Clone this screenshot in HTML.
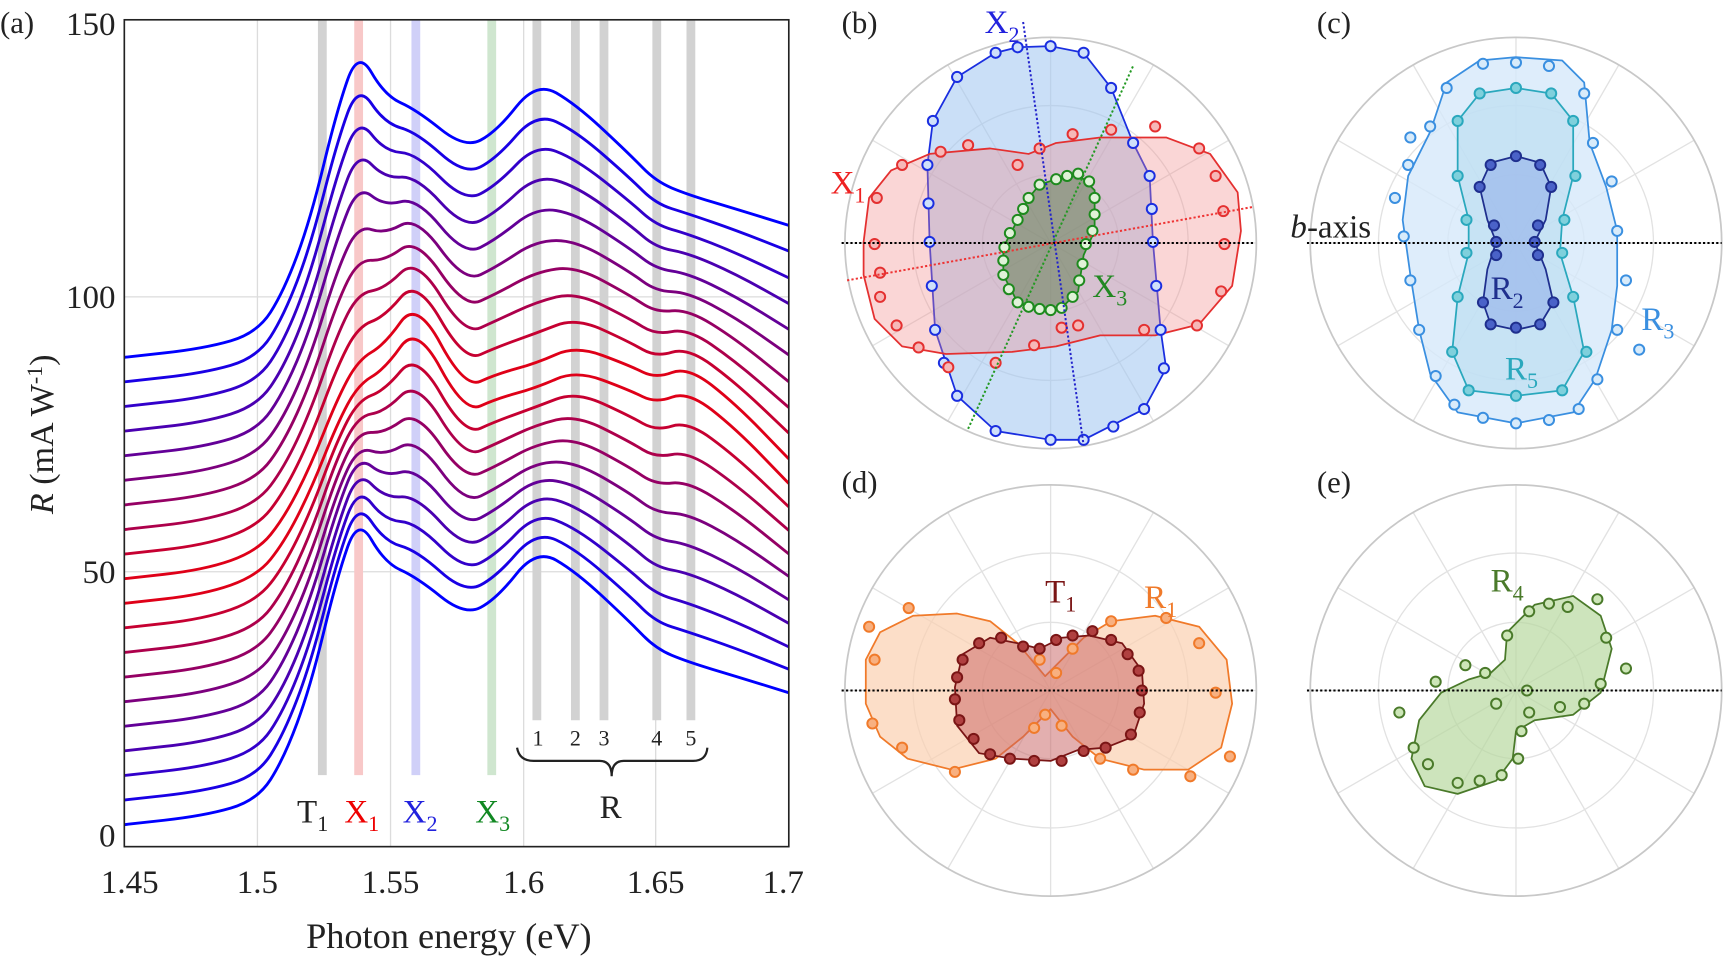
<!DOCTYPE html>
<html><head><meta charset="utf-8"><style>
html,body{margin:0;padding:0;background:#fff;}
svg{display:block;}
text{font-family:"Liberation Serif",serif;}
</style></head><body>
<svg width="1725" height="961" viewBox="0 0 1568 874" preserveAspectRatio="none" xmlns="http://www.w3.org/2000/svg" xmlns:xlink="http://www.w3.org/1999/xlink">
<defs>
<path id="p0" d="M113 0L149.25 -4Q185.5 -8 209.65 -15Q233.8 -22 245.9 -41Q258 -60 270.05 -92.5Q282.1 -125 294.2 -175Q306.3 -225 315.95 -252.5Q325.6 -280 337.7 -259Q349.8 -238 364.3 -231.5Q378.8 -225 400.55 -207.5Q422.3 -190 436.75 -197.5Q451.2 -205 469.35 -228Q487.5 -251 505.6 -240.5Q523.7 -230 547.85 -207.5Q572 -185 584.1 -172.5Q596.2 -160 610.7 -154Q625.2 -148 646.9 -141.5Q668.6 -135 692.8 -127.5L717 -120"/>
<path id="p1" d="M113 0L149.25 -4Q185.5 -8 209.65 -15Q233.8 -22 245.9 -41Q258 -60 270.05 -91.5Q282.1 -123 294.2 -170.5Q306.3 -218 315.95 -244.5Q325.6 -271 337.7 -253Q349.8 -235 364.3 -231Q378.8 -227 400.55 -207.5Q422.3 -188 436.75 -195.5Q451.2 -203 469.35 -224Q487.5 -245 505.6 -236.5Q523.7 -228 547.85 -207Q572 -186 584.1 -174Q596.2 -162 610.7 -157.5Q625.2 -153 646.9 -145.5Q668.6 -138 692.8 -128.5L717 -119"/>
<path id="p2" d="M113 0L149.25 -4Q185.5 -8 209.65 -15.5Q233.8 -23 245.9 -41Q258 -59 270.05 -89.5Q282.1 -120 294.2 -165.5Q306.3 -211 315.95 -237Q325.6 -263 337.7 -247.5Q349.8 -232 364.3 -231Q378.8 -230 400.55 -208Q422.3 -186 436.75 -193.5Q451.2 -201 469.35 -220Q487.5 -239 505.6 -232Q523.7 -225 547.85 -206Q572 -187 584.1 -176Q596.2 -165 610.7 -161Q625.2 -157 646.9 -148.5Q668.6 -140 692.8 -128.5L717 -117"/>
<path id="p3" d="M113 0L149.25 -4Q185.5 -8 209.65 -15.5Q233.8 -23 245.9 -40.5Q258 -58 270.05 -87.5Q282.1 -117 294.2 -160.5Q306.3 -204 315.95 -229.5Q325.6 -255 337.7 -242.5Q349.8 -230 364.3 -231Q378.8 -232 400.55 -208Q422.3 -184 436.75 -191.5Q451.2 -199 469.35 -216Q487.5 -233 505.6 -228Q523.7 -223 547.85 -205.5Q572 -188 584.1 -177.5Q596.2 -167 610.7 -164.5Q625.2 -162 646.9 -152.5Q668.6 -143 692.8 -129.5L717 -116"/>
<path id="p4" d="M113 0L149.25 -4Q185.5 -8 209.65 -15.5Q233.8 -23 245.9 -40.5Q258 -58 270.05 -86.5Q282.1 -115 294.2 -156.5Q306.3 -198 315.95 -222Q325.6 -246 337.7 -236.5Q349.8 -227 364.3 -231Q378.8 -235 400.55 -208.5Q422.3 -182 436.75 -189.5Q451.2 -197 469.35 -211.5Q487.5 -226 505.6 -223Q523.7 -220 547.85 -204.5Q572 -189 584.1 -179.5Q596.2 -170 610.7 -168Q625.2 -166 646.9 -155.5Q668.6 -145 692.8 -130L717 -115"/>
<path id="p5" d="M113 0L149.25 -4Q185.5 -8 209.65 -16Q233.8 -24 245.9 -40.5Q258 -57 270.05 -84.5Q282.1 -112 294.2 -151.5Q306.3 -191 315.95 -211.5Q325.6 -232 337.7 -228Q349.8 -224 364.3 -232Q378.8 -240 400.55 -210Q422.3 -180 436.75 -187Q451.2 -194 469.35 -206Q487.5 -218 505.6 -218Q523.7 -218 547.85 -204Q572 -190 584.1 -181Q596.2 -172 610.7 -171.5Q625.2 -171 646.9 -159.5Q668.6 -148 692.8 -131L717 -114"/>
<path id="p6" d="M113 0L149.25 -4Q185.5 -8 209.65 -16Q233.8 -24 245.9 -40.5Q258 -57 270.05 -83.5Q282.1 -110 294.2 -147Q306.3 -184 315.95 -203.5Q325.6 -223 337.7 -222.5Q349.8 -222 364.3 -232.5Q378.8 -243 400.55 -211Q422.3 -179 436.75 -185.5Q451.2 -192 469.35 -202Q487.5 -212 505.6 -214.5Q523.7 -217 547.85 -204Q572 -191 584.1 -183Q596.2 -175 610.7 -176.5Q625.2 -178 646.9 -164.5Q668.6 -151 692.8 -131.5L717 -112"/>
<path id="p7" d="M113 0L149.25 -4Q185.5 -8 209.65 -16Q233.8 -24 245.9 -40Q258 -56 270.05 -81.5Q282.1 -107 294.2 -142Q306.3 -177 315.95 -196Q325.6 -215 337.7 -217Q349.8 -219 364.3 -233.5Q378.8 -248 400.55 -212.5Q422.3 -177 436.75 -183.5Q451.2 -190 469.35 -198.5Q487.5 -207 505.6 -211.5Q523.7 -216 547.85 -204Q572 -192 584.1 -184.5Q596.2 -177 610.7 -180Q625.2 -183 646.9 -168Q668.6 -153 692.8 -132L717 -111"/>
<path id="p8" d="M113 0L149.25 -4Q185.5 -8 209.65 -16.5Q233.8 -25 245.9 -40.5Q258 -56 270.05 -80.5Q282.1 -105 294.2 -137.5Q306.3 -170 315.95 -188.5Q325.6 -207 337.7 -211.5Q349.8 -216 364.3 -233.5Q378.8 -251 400.55 -213Q422.3 -175 436.75 -181.5Q451.2 -188 469.35 -194.5Q487.5 -201 505.6 -208Q523.7 -215 547.85 -204Q572 -193 584.1 -186Q596.2 -179 610.7 -183.5Q625.2 -188 646.9 -172Q668.6 -156 692.8 -133L717 -110"/>
<path id="p9" d="M113 0L149.25 -4Q185.5 -8 209.65 -16.5Q233.8 -25 245.9 -40Q258 -55 270.05 -78.5Q282.1 -102 294.2 -132.5Q306.3 -163 315.95 -181Q325.6 -199 337.7 -206Q349.8 -213 364.3 -233.5Q378.8 -254 400.55 -213.5Q422.3 -173 436.75 -179.5Q451.2 -186 469.35 -191Q487.5 -196 505.6 -204Q523.7 -212 547.85 -203Q572 -194 584.1 -188Q596.2 -182 610.7 -187.5Q625.2 -193 646.9 -176Q668.6 -159 692.8 -134L717 -109"/>
<g id="pg" stroke="#e2e2e2" stroke-width="1.2" fill="none">
<line x1="-187" y1="0" x2="187" y2="0"/><line x1="0" y1="-187" x2="0" y2="187"/>
<line x1="-162" y1="-93.5" x2="162" y2="93.5"/><line x1="-162" y1="93.5" x2="162" y2="-93.5"/>
<line x1="-93.5" y1="-162" x2="93.5" y2="162"/><line x1="-93.5" y1="162" x2="93.5" y2="-162"/>
<circle r="62"/><circle r="125"/><circle r="187" stroke="#c8c8c8" stroke-width="1.6"/>
</g>
</defs>
<rect width="1568" height="874" fill="#fff"/>
<g stroke="#dcdcdc" stroke-width="1.2">
<line x1="234" y1="18" x2="234" y2="770"/><line x1="355" y1="18" x2="355" y2="770"/>
<line x1="476" y1="18" x2="476" y2="770"/><line x1="596" y1="18" x2="596" y2="770"/>
<line x1="113" y1="270" x2="717" y2="270"/><line x1="113" y1="520" x2="717" y2="520"/>
</g>
<g stroke-width="8">
<line x1="293" y1="18" x2="293" y2="705" stroke="#d2d2d2"/>
<line x1="326" y1="18" x2="326" y2="705" stroke="#f8c8c8"/>
<line x1="378" y1="18" x2="378" y2="705" stroke="#d0d0f8"/>
<line x1="447" y1="18" x2="447" y2="705" stroke="#cfe6cf"/>
<line x1="488" y1="18" x2="488" y2="655" stroke="#d2d2d2"/>
<line x1="523" y1="18" x2="523" y2="655" stroke="#d2d2d2"/>
<line x1="549" y1="18" x2="549" y2="655" stroke="#d2d2d2"/>
<line x1="597" y1="18" x2="597" y2="655" stroke="#d2d2d2"/>
<line x1="628" y1="18" x2="628" y2="655" stroke="#d2d2d2"/>
</g>
<g fill="none" stroke-width="2.6" stroke-linejoin="round">
<use xlink:href="#p0" transform="translate(0,750)" stroke="rgb(0,0,255)"/>
<use xlink:href="#p1" transform="translate(0,727.6)" stroke="rgb(25,0,229)"/>
<use xlink:href="#p2" transform="translate(0,705.3)" stroke="rgb(50,0,203)"/>
<use xlink:href="#p3" transform="translate(0,682.9)" stroke="rgb(74,0,177)"/>
<use xlink:href="#p4" transform="translate(0,660.5)" stroke="rgb(99,0,152)"/>
<use xlink:href="#p5" transform="translate(0,638.2)" stroke="rgb(124,0,126)"/>
<use xlink:href="#p6" transform="translate(0,615.8)" stroke="rgb(149,0,100)"/>
<use xlink:href="#p7" transform="translate(0,593.4)" stroke="rgb(173,0,75)"/>
<use xlink:href="#p8" transform="translate(0,571)" stroke="rgb(198,0,49)"/>
<use xlink:href="#p9" transform="translate(0,548.7)" stroke="rgb(223,0,24)"/>
<use xlink:href="#p9" transform="translate(0,526.3)" stroke="rgb(223,0,24)"/>
<use xlink:href="#p8" transform="translate(0,503.9)" stroke="rgb(198,0,49)"/>
<use xlink:href="#p7" transform="translate(0,481.6)" stroke="rgb(173,0,75)"/>
<use xlink:href="#p6" transform="translate(0,459.2)" stroke="rgb(149,0,100)"/>
<use xlink:href="#p5" transform="translate(0,436.8)" stroke="rgb(124,0,126)"/>
<use xlink:href="#p4" transform="translate(0,414.5)" stroke="rgb(99,0,152)"/>
<use xlink:href="#p3" transform="translate(0,392.1)" stroke="rgb(74,0,177)"/>
<use xlink:href="#p2" transform="translate(0,369.7)" stroke="rgb(50,0,203)"/>
<use xlink:href="#p1" transform="translate(0,347.3)" stroke="rgb(25,0,229)"/>
<use xlink:href="#p0" transform="translate(0,325)" stroke="rgb(0,0,255)"/>
</g>
<rect x="113" y="18" width="604" height="752" fill="none" stroke="#222" stroke-width="1.5"/>
<g font-size="30" fill="#222" text-anchor="end">
<text x="105" y="32">150</text><text x="105" y="280">100</text><text x="105" y="530">50</text><text x="105" y="770">0</text>
</g>
<g font-size="30" fill="#222" text-anchor="middle">
<text x="118" y="812">1.45</text><text x="234" y="812">1.5</text><text x="355" y="812">1.55</text>
<text x="476" y="812">1.6</text><text x="596" y="812">1.65</text><text x="712" y="812">1.7</text>
<text x="408" y="862" font-size="33">Photon energy (eV)</text>
</g>
<text transform="translate(48,395) rotate(-90)" font-size="31" text-anchor="middle" fill="#222"><tspan font-style="italic">R</tspan> (mA W<tspan font-size="20" dy="-10">-1</tspan><tspan dy="10">)</tspan></text>
<text x="0" y="30" font-size="28" fill="#222">(a)</text>
<g font-size="30">
<text x="270" y="748" fill="#222">T<tspan font-size="20" dy="8">1</tspan></text>
<text x="313" y="748" fill="#e00">X<tspan font-size="20" dy="8">1</tspan></text>
<text x="366" y="748" fill="#22d">X<tspan font-size="20" dy="8">2</tspan></text>
<text x="432" y="748" fill="#182">X<tspan font-size="20" dy="8">3</tspan></text>
<text x="545" y="744" fill="#222">R</text>
</g>
<g font-size="20" fill="#222" text-anchor="middle">
<text x="489" y="678">1</text><text x="523" y="678">2</text><text x="549" y="678">3</text><text x="597" y="678">4</text><text x="628" y="678">5</text>
</g>
<path d="M470 680 Q472 692 485 692 L545 692 Q556 692 556 706 Q556 692 567 692 L630 692 Q642 692 643 680" fill="none" stroke="#222" stroke-width="2"/>

<use xlink:href="#pg" transform="translate(955,221)"/>
<use xlink:href="#pg" transform="translate(1378,221)"/>
<use xlink:href="#pg" transform="translate(955,628)"/>
<use xlink:href="#pg" transform="translate(1378,628)"/>

<!-- (b) -->
<g stroke-linejoin="round" stroke-width="1.6">
<polygon points="925,43 955,42 985,48 1010,80 1030,130 1045,160 1048,220 1055,300 1060,335 1040,372 985,400 955,400 905,392 870,360 850,300 845,220 843,150 848,110 870,70 905,48" fill="#9ec4f0" fill-opacity="0.55" stroke="#1a2ee0"/>
<polygon points="785,220 790,180 810,155 845,140 900,135 935,140 960,130 1000,125 1060,125 1100,140 1125,175 1128,210 1120,260 1090,295 1050,305 1000,305 960,315 920,320 860,322 820,315 795,290 785,250" fill="#f08a8a" fill-opacity="0.35" stroke="#e43030"/>
<polygon points="960,163 980,158 995,173 995,210 985,232 980,265 965,280 945,281 925,275 912,250 912,225 925,200 935,180 945,168" fill="#5a7a4a" fill-opacity="0.5" stroke="#1e8a1e"/>
</g>
<g fill="#cfe0fa" stroke="#1a2ee0" stroke-width="1.8">
<circle cx="925" cy="43" r="4.6"/><circle cx="955" cy="42" r="4.6"/><circle cx="985" cy="48" r="4.6"/><circle cx="1010" cy="80" r="4.6"/><circle cx="1030" cy="130" r="4.6"/><circle cx="1045" cy="160" r="4.6"/><circle cx="1047" cy="190" r="4.6"/><circle cx="1048" cy="220" r="4.6"/><circle cx="1051" cy="260" r="4.6"/><circle cx="1055" cy="300" r="4.6"/><circle cx="1058" cy="335" r="4.6"/><circle cx="1040" cy="372" r="4.6"/><circle cx="1012" cy="388" r="4.6"/><circle cx="985" cy="400" r="4.6"/><circle cx="955" cy="400" r="4.6"/><circle cx="905" cy="392" r="4.6"/><circle cx="870" cy="360" r="4.6"/><circle cx="858" cy="330" r="4.6"/><circle cx="850" cy="300" r="4.6"/><circle cx="847" cy="260" r="4.6"/><circle cx="845" cy="220" r="4.6"/><circle cx="844" cy="185" r="4.6"/><circle cx="843" cy="150" r="4.6"/><circle cx="848" cy="110" r="4.6"/><circle cx="870" cy="70" r="4.6"/><circle cx="905" cy="48" r="4.6"/>
</g>
<g fill="#f6b8b8" stroke="#e43030" stroke-width="1.8">
<circle cx="795" cy="222" r="4.6"/><circle cx="797" cy="180" r="4.6"/><circle cx="820" cy="150" r="4.6"/><circle cx="855" cy="138" r="4.6"/><circle cx="880" cy="132" r="4.6"/><circle cx="925" cy="150" r="4.6"/><circle cx="945" cy="135" r="4.6"/><circle cx="975" cy="122" r="4.6"/><circle cx="1010" cy="118" r="4.6"/><circle cx="1050" cy="115" r="4.6"/><circle cx="1090" cy="135" r="4.6"/><circle cx="1105" cy="160" r="4.6"/><circle cx="1112" cy="192" r="4.6"/><circle cx="1113" cy="222" r="4.6"/><circle cx="1110" cy="265" r="4.6"/><circle cx="1088" cy="296" r="4.6"/><circle cx="1040" cy="300" r="4.6"/><circle cx="980" cy="296" r="4.6"/><circle cx="965" cy="298" r="4.6"/><circle cx="940" cy="314" r="4.6"/><circle cx="905" cy="330" r="4.6"/><circle cx="862" cy="334" r="4.6"/><circle cx="835" cy="316" r="4.6"/><circle cx="815" cy="296" r="4.6"/><circle cx="800" cy="270" r="4.6"/><circle cx="800" cy="248" r="4.6"/>
</g>
<g fill="#e0f2d8" stroke="#1e8a1e" stroke-width="1.8">
<circle cx="960" cy="163" r="4.6"/><circle cx="970" cy="160" r="4.6"/><circle cx="980" cy="158" r="4.6"/><circle cx="990" cy="165" r="4.6"/><circle cx="995" cy="180" r="4.6"/><circle cx="995" cy="195" r="4.6"/><circle cx="993" cy="210" r="4.6"/><circle cx="987" cy="222" r="4.6"/><circle cx="984" cy="240" r="4.6"/><circle cx="981" cy="255" r="4.6"/><circle cx="975" cy="270" r="4.6"/><circle cx="965" cy="280" r="4.6"/><circle cx="955" cy="282" r="4.6"/><circle cx="945" cy="281" r="4.6"/><circle cx="935" cy="279" r="4.6"/><circle cx="925" cy="275" r="4.6"/><circle cx="917" cy="263" r="4.6"/><circle cx="912" cy="250" r="4.6"/><circle cx="912" cy="237" r="4.6"/><circle cx="913" cy="225" r="4.6"/><circle cx="918" cy="212" r="4.6"/><circle cx="925" cy="200" r="4.6"/><circle cx="930" cy="190" r="4.6"/><circle cx="935" cy="180" r="4.6"/><circle cx="945" cy="168" r="4.6"/>
</g>
<g stroke-width="1.8" stroke-dasharray="2 2">
<line x1="765" y1="221" x2="1140" y2="221" stroke="#000"/>
<line x1="930" y1="20" x2="985" y2="405" stroke="#22c"/>
<line x1="880" y1="390" x2="1030" y2="60" stroke="#292"/>
<line x1="770" y1="255" x2="1140" y2="188" stroke="#e33"/>
</g>

<!-- (c) -->
<g stroke-linejoin="round" stroke-width="1.6">
<polygon points="1378,52 1420,55 1440,75 1445,130 1460,170 1470,210 1470,260 1465,300 1450,345 1430,375 1378,385 1325,375 1300,340 1290,300 1282,250 1275,200 1280,160 1300,120 1315,75 1345,55" fill="#d6e8fa" fill-opacity="0.8" stroke="#3a8fe0"/>
<polygon points="1378,80 1410,85 1430,110 1430,160 1420,200 1418,230 1430,270 1440,320 1420,355 1378,360 1335,355 1320,320 1325,270 1335,230 1335,200 1325,160 1325,110 1345,85" fill="#b8dcf0" fill-opacity="0.6" stroke="#2aa8bd"/>
<polygon points="1378,142 1400,148 1410,170 1405,200 1395,220 1405,245 1412,275 1400,295 1378,300 1355,295 1348,275 1352,245 1360,220 1352,200 1345,170 1355,148" fill="#8aa8e8" fill-opacity="0.5" stroke="#1f2f8e"/>
</g>
<g fill="#d8ebfa" stroke="#3a8fe0" stroke-width="1.8">
<circle cx="1348" cy="58" r="4.6"/><circle cx="1378" cy="57" r="4.6"/><circle cx="1408" cy="60" r="4.6"/><circle cx="1440" cy="85" r="4.6"/><circle cx="1448" cy="130" r="4.6"/><circle cx="1465" cy="165" r="4.6"/><circle cx="1470" cy="210" r="4.6"/><circle cx="1478" cy="255" r="4.6"/><circle cx="1470" cy="300" r="4.6"/><circle cx="1490" cy="318" r="4.6"/><circle cx="1452" cy="345" r="4.6"/><circle cx="1435" cy="372" r="4.6"/><circle cx="1408" cy="382" r="4.6"/><circle cx="1378" cy="385" r="4.6"/><circle cx="1348" cy="380" r="4.6"/><circle cx="1322" cy="368" r="4.6"/><circle cx="1305" cy="342" r="4.6"/><circle cx="1290" cy="300" r="4.6"/><circle cx="1282" cy="255" r="4.6"/><circle cx="1276" cy="215" r="4.6"/><circle cx="1268" cy="180" r="4.6"/><circle cx="1280" cy="150" r="4.6"/><circle cx="1300" cy="115" r="4.6"/><circle cx="1315" cy="80" r="4.6"/><circle cx="1282" cy="125" r="4.6"/>
</g>
<g fill="#7fd0dc" stroke="#2aa8bd" stroke-width="1.8">
<circle cx="1378" cy="80" r="4.6"/><circle cx="1410" cy="85" r="4.6"/><circle cx="1430" cy="110" r="4.6"/><circle cx="1432" cy="160" r="4.6"/><circle cx="1422" cy="200" r="4.6"/><circle cx="1420" cy="230" r="4.6"/><circle cx="1430" cy="270" r="4.6"/><circle cx="1442" cy="320" r="4.6"/><circle cx="1420" cy="355" r="4.6"/><circle cx="1378" cy="360" r="4.6"/><circle cx="1335" cy="355" r="4.6"/><circle cx="1320" cy="320" r="4.6"/><circle cx="1325" cy="270" r="4.6"/><circle cx="1333" cy="230" r="4.6"/><circle cx="1333" cy="200" r="4.6"/><circle cx="1325" cy="160" r="4.6"/><circle cx="1325" cy="110" r="4.6"/><circle cx="1345" cy="85" r="4.6"/>
</g>
<g fill="#4a62c8" stroke="#1f2f8e" stroke-width="1.8">
<circle cx="1378" cy="142" r="4.6"/><circle cx="1400" cy="150" r="4.6"/><circle cx="1410" cy="170" r="4.6"/><circle cx="1398" cy="205" r="4.6"/><circle cx="1395" cy="220" r="4.6"/><circle cx="1398" cy="232" r="4.6"/><circle cx="1412" cy="275" r="4.6"/><circle cx="1400" cy="295" r="4.6"/><circle cx="1378" cy="298" r="4.6"/><circle cx="1355" cy="295" r="4.6"/><circle cx="1348" cy="275" r="4.6"/><circle cx="1360" cy="232" r="4.6"/><circle cx="1360" cy="220" r="4.6"/><circle cx="1358" cy="205" r="4.6"/><circle cx="1345" cy="170" r="4.6"/><circle cx="1355" cy="150" r="4.6"/>
</g>
<line x1="1188" y1="221" x2="1565" y2="221" stroke="#000" stroke-width="1.8" stroke-dasharray="2 2"/>

<!-- (d) -->
<g stroke-linejoin="round" stroke-width="1.6">
<polygon points="787,600 800,575 830,560 870,558 900,565 925,585 950,615 985,580 1010,565 1050,560 1090,570 1115,600 1120,640 1110,680 1080,700 1040,700 1000,690 975,670 955,645 930,670 905,690 865,700 825,690 800,670 787,640" fill="#fbd0b0" fill-opacity="0.7" stroke="#f07a2a"/>
<polygon points="875,595 900,580 925,585 945,590 965,580 990,578 1020,585 1038,610 1040,640 1030,670 1005,680 980,682 955,692 920,690 890,685 870,660 868,625" fill="#c86060" fill-opacity="0.5" stroke="#7a1515"/>
</g>
<g fill="#f8b080" stroke="#f07a2a" stroke-width="1.8">
<circle cx="790" cy="570" r="4.6"/><circle cx="826" cy="553" r="4.6"/><circle cx="795" cy="600" r="4.6"/><circle cx="793" cy="658" r="4.6"/><circle cx="820" cy="680" r="4.6"/><circle cx="868" cy="702" r="4.6"/><circle cx="945" cy="600" r="4.6"/><circle cx="960" cy="612" r="4.6"/><circle cx="975" cy="590" r="4.6"/><circle cx="950" cy="650" r="4.6"/><circle cx="940" cy="662" r="4.6"/><circle cx="965" cy="660" r="4.6"/><circle cx="1010" cy="565" r="4.6"/><circle cx="1060" cy="562" r="4.6"/><circle cx="1090" cy="585" r="4.6"/><circle cx="1105" cy="630" r="4.6"/><circle cx="1118" cy="688" r="4.6"/><circle cx="1082" cy="706" r="4.6"/><circle cx="1030" cy="700" r="4.6"/><circle cx="1000" cy="690" r="4.6"/>
</g>
<g fill="#b04040" stroke="#7a1515" stroke-width="1.8">
<circle cx="875" cy="600" r="4.6"/><circle cx="890" cy="585" r="4.6"/><circle cx="910" cy="580" r="4.6"/><circle cx="930" cy="588" r="4.6"/><circle cx="945" cy="590" r="4.6"/><circle cx="960" cy="582" r="4.6"/><circle cx="975" cy="578" r="4.6"/><circle cx="993" cy="574" r="4.6"/><circle cx="1010" cy="582" r="4.6"/><circle cx="1025" cy="595" r="4.6"/><circle cx="1035" cy="610" r="4.6"/><circle cx="1038" cy="628" r="4.6"/><circle cx="1036" cy="648" r="4.6"/><circle cx="1028" cy="668" r="4.6"/><circle cx="1005" cy="680" r="4.6"/><circle cx="985" cy="683" r="4.6"/><circle cx="965" cy="692" r="4.6"/><circle cx="940" cy="692" r="4.6"/><circle cx="918" cy="690" r="4.6"/><circle cx="900" cy="686" r="4.6"/><circle cx="885" cy="672" r="4.6"/><circle cx="872" cy="655" r="4.6"/><circle cx="868" cy="636" r="4.6"/><circle cx="870" cy="616" r="4.6"/>
</g>
<line x1="765" y1="628" x2="1140" y2="628" stroke="#000" stroke-width="1.8" stroke-dasharray="2 2"/>

<!-- (e) -->
<polygon points="1370,575 1395,550 1430,542 1455,560 1465,590 1455,630 1430,650 1395,655 1378,665 1375,690 1360,710 1325,722 1295,715 1283,690 1290,655 1310,630 1335,618 1355,612 1368,600" fill="#b8d8a0" fill-opacity="0.7" stroke="#4a7a2a" stroke-width="1.6" stroke-linejoin="round"/>
<g fill="#cde6b8" stroke="#4a7a2a" stroke-width="1.8">
<circle cx="1370" cy="578" r="4.6"/><circle cx="1390" cy="556" r="4.6"/><circle cx="1408" cy="549" r="4.6"/><circle cx="1425" cy="552" r="4.6"/><circle cx="1452" cy="545" r="4.6"/><circle cx="1460" cy="580" r="4.6"/><circle cx="1478" cy="608" r="4.6"/><circle cx="1455" cy="622" r="4.6"/><circle cx="1440" cy="640" r="4.6"/><circle cx="1418" cy="643" r="4.6"/><circle cx="1390" cy="648" r="4.6"/><circle cx="1383" cy="665" r="4.6"/><circle cx="1380" cy="690" r="4.6"/><circle cx="1365" cy="705" r="4.6"/><circle cx="1345" cy="710" r="4.6"/><circle cx="1325" cy="712" r="4.6"/><circle cx="1298" cy="695" r="4.6"/><circle cx="1285" cy="680" r="4.6"/><circle cx="1272" cy="648" r="4.6"/><circle cx="1305" cy="620" r="4.6"/><circle cx="1332" cy="605" r="4.6"/><circle cx="1350" cy="612" r="4.6"/><circle cx="1360" cy="640" r="4.6"/><circle cx="1388" cy="628" r="4.6"/>
</g>
<line x1="1188" y1="628" x2="1565" y2="628" stroke="#000" stroke-width="1.8" stroke-dasharray="2 2"/>

<g font-size="28" fill="#222">
<text x="765" y="30">(b)</text><text x="1197" y="30">(c)</text><text x="765" y="448">(d)</text><text x="1197" y="448">(e)</text>
</g>
<g font-size="30">
<text x="895" y="30" fill="#22d">X<tspan font-size="20" dy="8">2</tspan></text>
<text x="755" y="176" fill="#e22">X<tspan font-size="20" dy="8">1</tspan></text>
<text x="993" y="270" fill="#282">X<tspan font-size="20" dy="8">3</tspan></text>
<text x="1173" y="216" fill="#222"><tspan font-style="italic">b</tspan>-axis</text>
<text x="1355" y="272" fill="#1f2f8e">R<tspan font-size="20" dy="8">2</tspan></text>
<text x="1492" y="300" fill="#3a8fe0">R<tspan font-size="20" dy="8">3</tspan></text>
<text x="1368" y="345" fill="#2aa8bd">R<tspan font-size="20" dy="8">5</tspan></text>
<text x="950" y="548" fill="#7a1515">T<tspan font-size="20" dy="8">1</tspan></text>
<text x="1040" y="553" fill="#f07a2a">R<tspan font-size="20" dy="8">1</tspan></text>
<text x="1355" y="538" fill="#4a7a2a">R<tspan font-size="20" dy="8">4</tspan></text>
</g>
</svg>
</body></html>
